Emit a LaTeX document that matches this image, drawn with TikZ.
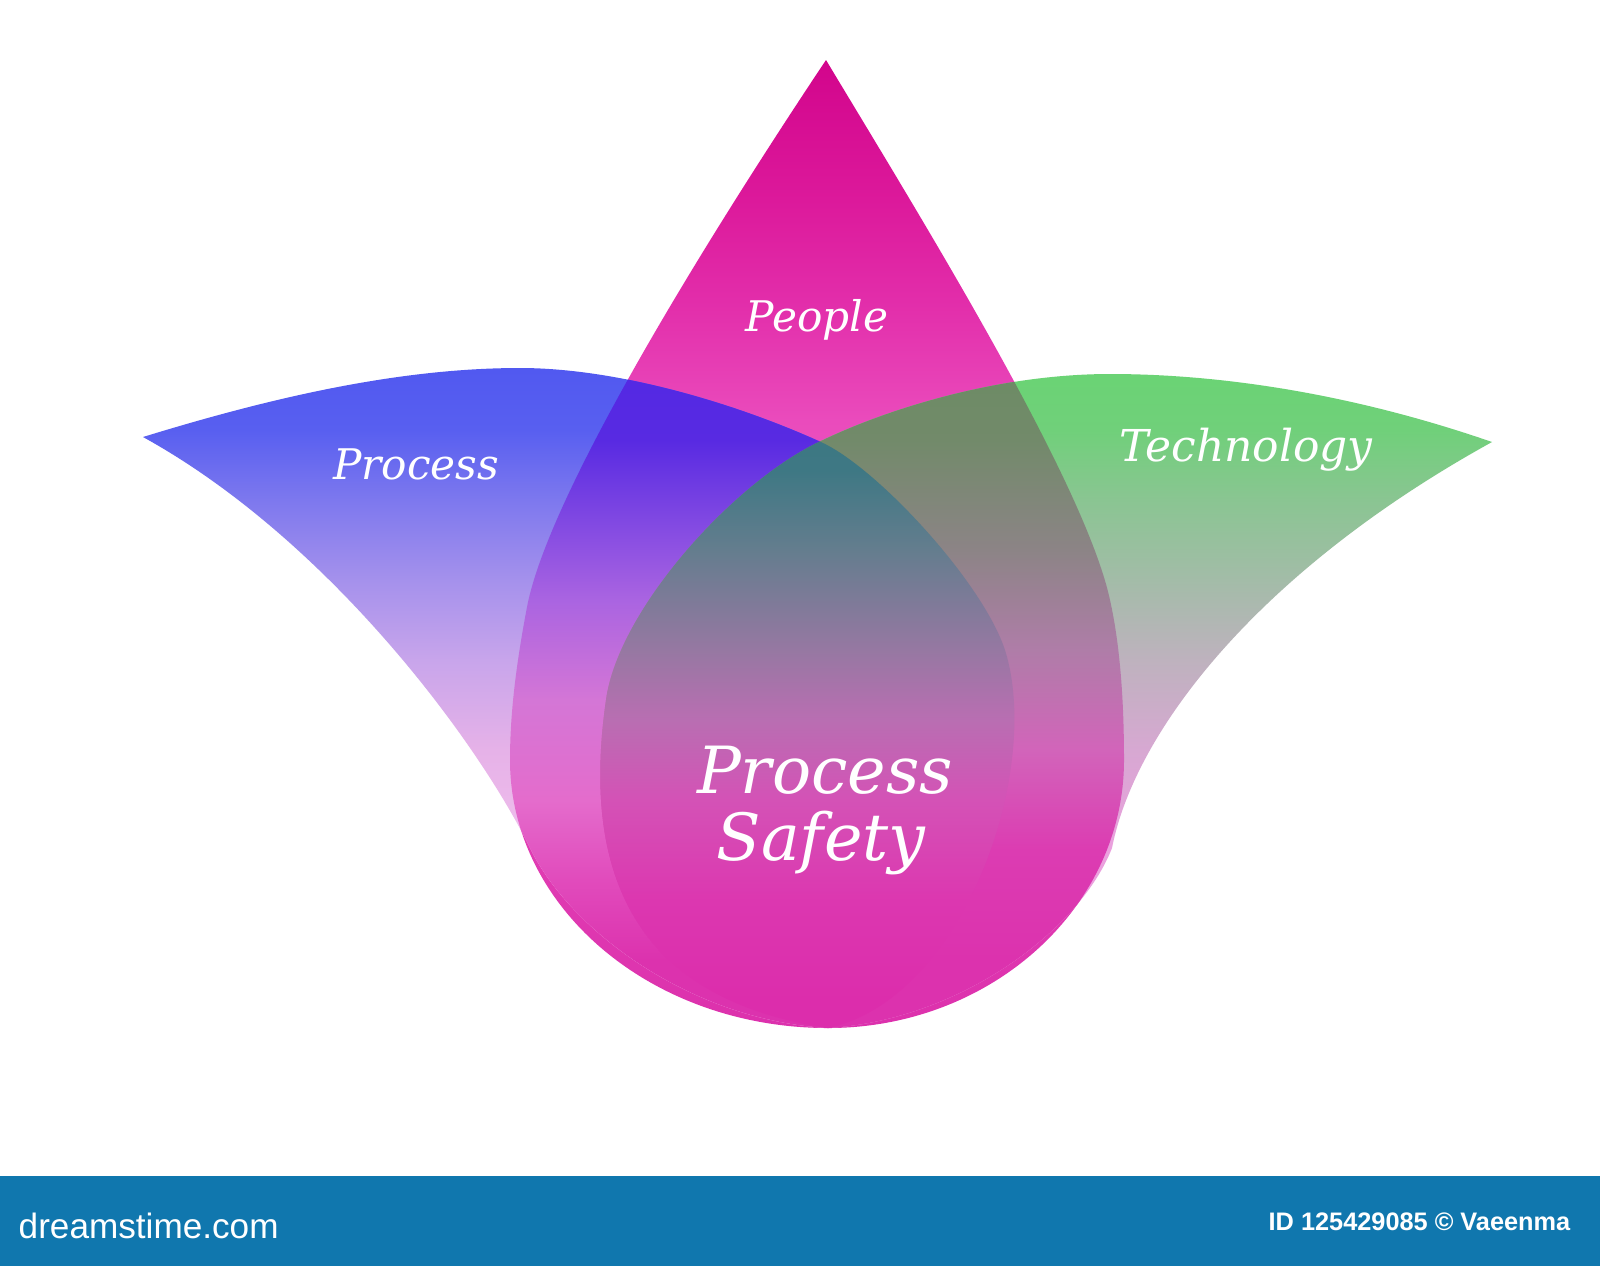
\documentclass[tikz,border=0pt]{standalone}
\usepackage{fontspec}
\newfontfamily\lblfont{DejaVu Serif}
\newfontfamily\bannerfont{Liberation Sans}

% ---------- colours ----------
\definecolor{bannerblue}{RGB}{16,119,174}
% drop
\definecolor{dA}{RGB}{210,5,140}
\definecolor{dB}{RGB}{220,25,155}
\definecolor{dC}{RGB}{226,45,170}
\definecolor{dD}{RGB}{234,75,188}
\definecolor{dE}{RGB}{236,85,192}
\definecolor{dF}{RGB}{228,70,185}
\definecolor{dG}{RGB}{220,48,172}
% blue petal over white
\definecolor{bA}{RGB}{80,88,240}
\definecolor{bB}{RGB}{88,95,240}
\definecolor{bC}{RGB}{125,120,238}
\definecolor{bD}{RGB}{165,145,236}
\definecolor{bE}{RGB}{200,165,235}
\definecolor{bF}{RGB}{230,178,232}
\definecolor{bG}{RGB}{240,190,236}
% green petal over white
\definecolor{gA}{RGB}{105,212,115}
\definecolor{gB}{RGB}{112,208,122}
\definecolor{gC}{RGB}{138,197,146}
\definecolor{gD}{RGB}{163,188,168}
\definecolor{gE}{RGB}{190,178,190}
\definecolor{gF}{RGB}{215,168,210}
\definecolor{gG}{RGB}{235,160,222}
% blue over drop
\definecolor{vA}{RGB}{82,40,228}
\definecolor{vB}{RGB}{88,42,226}
\definecolor{vC}{RGB}{128,72,226}
\definecolor{vD}{RGB}{170,100,225}
\definecolor{vE}{RGB}{212,118,214}
\definecolor{vF}{RGB}{228,108,204}
\definecolor{vG}{RGB}{225,75,188}
\definecolor{vH}{RGB}{220,50,174}
% green over drop
\definecolor{oA}{RGB}{108,140,100}
\definecolor{oB}{RGB}{114,138,106}
\definecolor{oC}{RGB}{140,132,134}
\definecolor{oD}{RGB}{175,125,168}
\definecolor{oE}{RGB}{210,100,186}
\definecolor{oF}{RGB}{220,60,178}
\definecolor{oG}{RGB}{220,50,174}
% all three
\definecolor{tA}{RGB}{58,118,128}
\definecolor{tB}{RGB}{62,120,132}
\definecolor{tC}{RGB}{100,125,142}
\definecolor{tD}{RGB}{150,120,162}
\definecolor{tE}{RGB}{185,110,178}
\definecolor{tF}{RGB}{212,82,182}
\definecolor{tG}{RGB}{220,55,176}
\definecolor{tH}{RGB}{220,45,172}

% ---------- shadings (band y=360..1040 maps to 75bp..25bp) ----------
\pgfdeclareverticalshading{shDrop}{100bp}{color(0bp)=(dG); color(25bp)=(dG);
  color(42.26bp)=(dF); color(52.41bp)=(dE); color(56.47bp)=(dD);
  color(62.56bp)=(dC); color(67.64bp)=(dB); color(74.75bp)=(dA); color(100bp)=(dA)}
\pgfdeclareverticalshading{shBlue}{100bp}{color(0bp)=(bG); color(38.97bp)=(bG);
  color(46.32bp)=(bF); color(52.94bp)=(bE); color(58.82bp)=(bD);
  color(64.71bp)=(bC); color(69.85bp)=(bB); color(75bp)=(bA); color(100bp)=(bA)}
\pgfdeclareverticalshading{shGreen}{100bp}{color(0bp)=(gG); color(38.97bp)=(gG);
  color(46.32bp)=(gF); color(52.94bp)=(gE); color(58.82bp)=(gD);
  color(64.71bp)=(gC); color(69.85bp)=(gB); color(75bp)=(gA); color(100bp)=(gA)}
\pgfdeclareverticalshading{shBD}{100bp}{color(0bp)=(vH); color(30.88bp)=(vH);
  color(36.76bp)=(vG); color(42.65bp)=(vF); color(50bp)=(vE);
  color(57.35bp)=(vD); color(63.24bp)=(vC); color(69.12bp)=(vB); color(75bp)=(vA); color(100bp)=(vA)}
\pgfdeclareverticalshading{shGD}{100bp}{color(0bp)=(oG); color(30.88bp)=(oG);
  color(38.97bp)=(oF); color(46.32bp)=(oE); color(53.68bp)=(oD);
  color(61.03bp)=(oC); color(69.12bp)=(oB); color(75bp)=(oA); color(100bp)=(oA)}
\pgfdeclareverticalshading{shAll}{100bp}{color(0bp)=(tH); color(27.94bp)=(tH);
  color(35.29bp)=(tG); color(42.65bp)=(tF); color(48.53bp)=(tE);
  color(53.68bp)=(tD); color(61.03bp)=(tC); color(66.91bp)=(tB); color(75bp)=(tA); color(100bp)=(tA)}

% ---------- outlines ----------
\newcommand\dropshape{(826,60) .. controls (726,210) and (550,487) .. (527,607)
  .. controls (517,660) and (510,710) .. (510,760)
  .. controls (510,908) and (652,1028) .. (828,1028)
  .. controls (991,1028) and (1124,908) .. (1124,760)
  .. controls (1124,700) and (1120,645) .. (1110,600)
  .. controls (1084,480) and (916,210) .. (826,60) -- cycle}
\newcommand\blueshape{(143,437) .. controls (273,397) and (400,368) .. (520,368)
  .. controls (620,368) and (740,405) .. (823,443)
  .. controls (880,470) and (990,590) .. (1007,657)
  .. controls (1040,780) and (960,1000) .. (828,1028)
  .. controls (690,1020) and (570,930) .. (530,848)
  .. controls (480,745) and (330,540) .. (143,437) -- cycle}
\newcommand\greenshape{(1492,442) .. controls (1362,397) and (1230,374) .. (1110,374)
  .. controls (1000,374) and (890,408) .. (823,440)
  .. controls (735,480) and (618,610) .. (606,700)
  .. controls (580,880) and (640,1000) .. (828,1028)
  .. controls (960,1020) and (1080,930) .. (1112,848)
  .. controls (1135,730) and (1260,570) .. (1492,442) -- cycle}

\begin{document}
\begin{tikzpicture}[x=0.01cm,y=-0.01cm,
  lbl/.style={text=white,inner sep=0pt,anchor=base,font=\lblfont\itshape\fontsize{12}{14}\selectfont},
  biglbl/.style={text=white,inner sep=0pt,anchor=base,font=\lblfont\itshape\fontsize{18.5}{22}\selectfont}]
\useasboundingbox (0,0) rectangle (1600,1266);
\fill[white] (0,0) rectangle (1600,1266);

% drop (People)
\begin{scope}
  \clip \dropshape;
  \shade[shading=shDrop] (470,55) rectangle (1150,1040);
\end{scope}
% blue petal (Process)
\begin{scope}
  \clip \blueshape;
  \shade[shading=shBlue] (100,360) rectangle (1520,1040);
\end{scope}
% green petal (Technology)
\begin{scope}
  \clip \greenshape;
  \shade[shading=shGreen] (100,360) rectangle (1520,1040);
\end{scope}
% blue over drop
\begin{scope}
  \clip \dropshape;
  \clip \blueshape;
  \shade[shading=shBD] (100,360) rectangle (1520,1040);
\end{scope}
% green over drop
\begin{scope}
  \clip \dropshape;
  \clip \greenshape;
  \shade[shading=shGD] (100,360) rectangle (1520,1040);
\end{scope}
% all three
\begin{scope}
  \clip \dropshape;
  \clip \blueshape;
  \clip \greenshape;
  \shade[shading=shAll] (100,360) rectangle (1520,1040);
\end{scope}

% labels
\node[lbl] (people) at (817,331) {People};
\node[lbl] (process) at (416,479) {Process};
\node[lbl,font=\lblfont\itshape\fontsize{12.5}{15}\selectfont] (technology) at (1246,461) {Technology};
\node[biglbl] (ps1) at (825,793) {Process};
\node[biglbl] (ps2) at (821,860) {Safety};

% banner
\fill[bannerblue] (0,1176) rectangle (1600,1266);
\node[text=white,inner sep=0pt,anchor=base west,font=\bannerfont\fontsize{10}{12}\selectfont]
  (site) at (18,1238) {dreamstime.com};
\node[text=white,inner sep=0pt,anchor=base east,font=\bannerfont\bfseries\fontsize{7.2}{9}\selectfont]
  (imgid) at (1571,1230) {ID 125429085 © Vaeenma};
\end{tikzpicture}
\end{document}
